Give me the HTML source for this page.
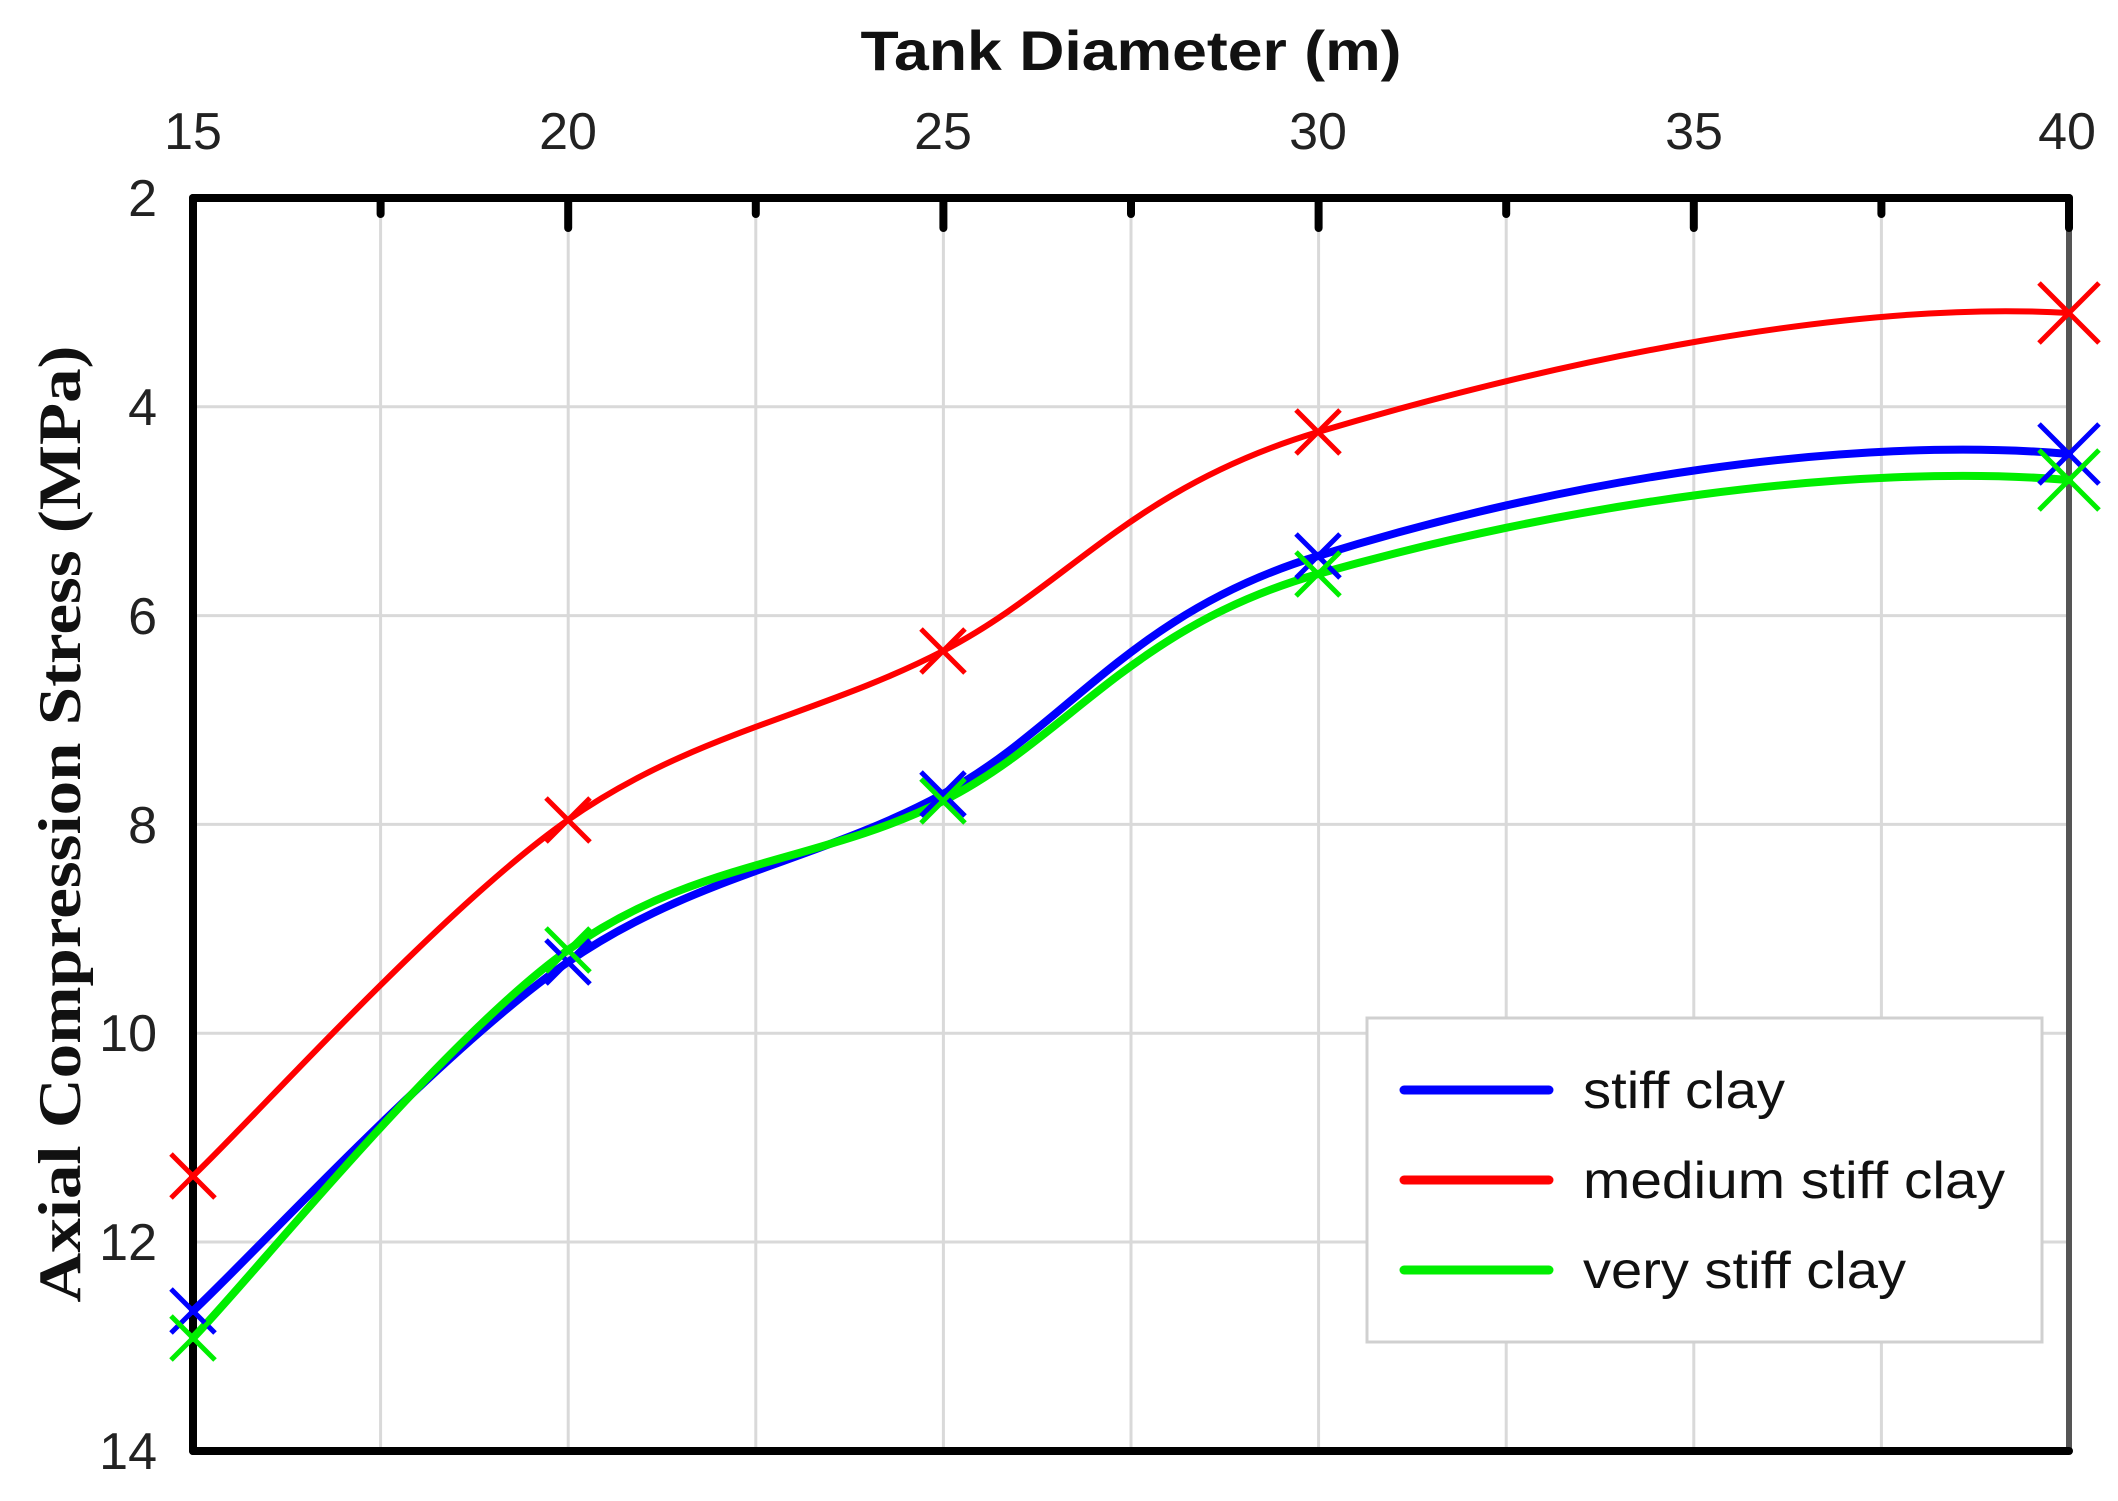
<!DOCTYPE html>
<html><head><meta charset="utf-8"><style>html,body{margin:0;padding:0;background:#fff}svg{display:block}</style></head>
<body>
<svg width="2118" height="1501" viewBox="0 0 2118 1501" xmlns="http://www.w3.org/2000/svg">
<rect width="2118" height="1501" fill="#fff"/>
<g stroke="#d9d9d9" stroke-width="3">
<line x1="380.6" y1="198" x2="380.6" y2="1451"/>
<line x1="568.2" y1="198" x2="568.2" y2="1451"/>
<line x1="755.8" y1="198" x2="755.8" y2="1451"/>
<line x1="943.4" y1="198" x2="943.4" y2="1451"/>
<line x1="1131" y1="198" x2="1131" y2="1451"/>
<line x1="1318.6" y1="198" x2="1318.6" y2="1451"/>
<line x1="1506.2" y1="198" x2="1506.2" y2="1451"/>
<line x1="1693.8" y1="198" x2="1693.8" y2="1451"/>
<line x1="1881.4" y1="198" x2="1881.4" y2="1451"/>
<line x1="193" y1="406.8" x2="2069" y2="406.8"/>
<line x1="193" y1="615.6" x2="2069" y2="615.6"/>
<line x1="193" y1="824.4" x2="2069" y2="824.4"/>
<line x1="193" y1="1033.2" x2="2069" y2="1033.2"/>
<line x1="193" y1="1242" x2="2069" y2="1242"/>
</g>
<line x1="2069" y1="198" x2="2069" y2="1451" stroke="#555" stroke-width="6"/>
<g stroke="#000" stroke-width="8" stroke-linecap="round">
<line x1="193" y1="198" x2="2069" y2="198"/>
<line x1="193" y1="198" x2="193" y2="1451"/>
<line x1="193" y1="1451" x2="2069" y2="1451"/>
<line x1="568.2" y1="198" x2="568.2" y2="228"/>
<line x1="943.4" y1="198" x2="943.4" y2="228"/>
<line x1="1318.6" y1="198" x2="1318.6" y2="228"/>
<line x1="1693.8" y1="198" x2="1693.8" y2="228"/>
<line x1="2069" y1="198" x2="2069" y2="228"/>
<line x1="380.6" y1="198" x2="380.6" y2="214"/>
<line x1="755.8" y1="198" x2="755.8" y2="214"/>
<line x1="1131" y1="198" x2="1131" y2="214"/>
<line x1="1506.2" y1="198" x2="1506.2" y2="214"/>
<line x1="1881.4" y1="198" x2="1881.4" y2="214"/>
</g>
<g font-family="Liberation Sans, sans-serif" font-size="52" fill="#222" text-anchor="middle">
<text x="193" y="149">15</text><text x="568" y="149">20</text><text x="943" y="149">25</text>
<text x="1318" y="149">30</text><text x="1694" y="149">35</text><text x="2067" y="149">40</text>
</g>
<g font-family="Liberation Sans, sans-serif" font-size="52" fill="#222" text-anchor="end">
<text x="157" y="216">2</text><text x="157" y="425">4</text><text x="157" y="634">6</text>
<text x="157" y="843">8</text><text x="157" y="1051">10</text><text x="157" y="1260">12</text><text x="157" y="1469">14</text>
</g>
<text x="1131" y="70" font-family="Liberation Sans, sans-serif" font-weight="bold" font-size="56" fill="#111" text-anchor="middle" textLength="541" lengthAdjust="spacingAndGlyphs">Tank Diameter (m)</text>
<text transform="translate(80,824) rotate(-90)" font-family="Liberation Serif, serif" font-weight="bold" font-size="60" fill="#111" text-anchor="middle" textLength="957" lengthAdjust="spacingAndGlyphs">Axial Compression Stress (MPa)</text>
<g fill="none" stroke-linecap="round">
<path stroke="#ff0000" stroke-width="6" d="M193,1176 C255.5,1116.7 443,907.5 568,820 C693,732.5 818,715.7 943,651 C1068,586.3 1130.3,488.3 1318,432 C1560,360 1850,300 2069,313"/>
<path stroke="#0000ff" stroke-width="8" d="M193,1311 C255.5,1252.8 443,1048.2 568,962 C693,875.8 818,861.7 943,794 C1068,726.3 1130.3,612.7 1318,556 C1560,480 1850,435 2069,454"/>
<path stroke="#00ee00" stroke-width="8" d="M193,1338 C255.5,1273.3 443,1039.5 568,950 C693,860.5 818,863.7 943,801 C1068,738.3 1130.3,627.5 1318,574 C1560,505 1850,462 2069,480"/>
</g>
<g stroke-width="5">
<g stroke="#ff0000">
<path d="M171,1154 l44,44 M215,1154 l-44,44"/><path d="M546,798 l44,44 M590,798 l-44,44"/><path d="M921,629 l44,44 M965,629 l-44,44"/><path d="M1296,410 l44,44 M1340,410 l-44,44"/><path d="M2039,283 l60,60 M2099,283 l-60,60"/>
</g>
<g stroke="#0000ff">
<path d="M171,1289 l44,44 M215,1289 l-44,44"/><path d="M546,940 l44,44 M590,940 l-44,44"/><path d="M921,772 l44,44 M965,772 l-44,44"/><path d="M1296,534 l44,44 M1340,534 l-44,44"/><path d="M2039,424 l60,60 M2099,424 l-60,60"/>
</g>
<g stroke="#00ee00">
<path d="M171,1316 l44,44 M215,1316 l-44,44"/><path d="M546,928 l44,44 M590,928 l-44,44"/><path d="M921,779 l44,44 M965,779 l-44,44"/><path d="M1296,552 l44,44 M1340,552 l-44,44"/><path d="M2039,450 l60,60 M2099,450 l-60,60"/>
</g>
</g>
<rect x="1367" y="1018" width="675" height="324" fill="#fff" stroke="#d0d0d0" stroke-width="3"/>
<g stroke-width="9" stroke-linecap="round">
<line x1="1404" y1="1090" x2="1549" y2="1090" stroke="#0000ff"/>
<line x1="1404" y1="1180" x2="1549" y2="1180" stroke="#ff0000"/>
<line x1="1404" y1="1270" x2="1549" y2="1270" stroke="#00ee00"/>
</g>
<g font-family="Liberation Sans, sans-serif" font-size="52" fill="#111">
<text x="1583" y="1108" textLength="202" lengthAdjust="spacingAndGlyphs">stiff clay</text>
<text x="1583" y="1198" textLength="422" lengthAdjust="spacingAndGlyphs">medium stiff clay</text>
<text x="1583" y="1288" textLength="323" lengthAdjust="spacingAndGlyphs">very stiff clay</text>
</g>
</svg>
</body></html>
